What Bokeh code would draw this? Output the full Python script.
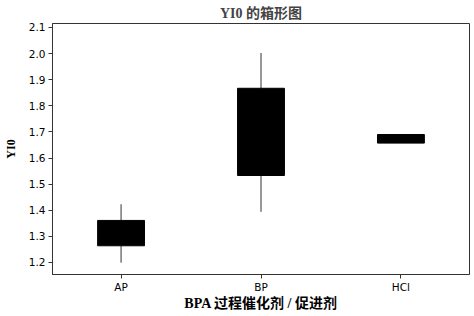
from bokeh.plotting import figure
from bokeh.models import FixedTicker, ColumnDataSource
from bokeh.embed import file_html
from bokeh.resources import INLINE

categories = ["AP", "BP", "HCl"]
q1 = [1.264, 1.533, 1.657]
q3 = [1.361, 1.867, 1.690]
lower = [1.199, 1.394, 1.657]
upper = [1.423, 2.002, 1.690]
y_ticks = [1.2, 1.3, 1.4, 1.5, 1.6, 1.7, 1.8, 1.9, 2.0, 2.1]

xs = list(range(len(categories)))
src = ColumnDataSource(dict(x=xs, q1=q1, q3=q3, lo=lower, hi=upper))

serif = "Liberation Serif, Noto Sans CJK SC"
sans = "DejaVu Sans"

p = figure(width=474, height=316, output_backend="svg", toolbar_location=None,
           x_range=(-0.49, 2.49), y_range=(1.154, 2.115),
           min_border_left=45, min_border_right=5, min_border_top=0, min_border_bottom=42,
           title="YI0 的箱形图")
p.title.align = "center"
p.title.text_font = serif
p.title.text_font_size = "14px"
p.title.text_font_style = "bold"
p.title.offset = 0
p.title.standoff = 6

p.segment(x0="x", y0="lo", x1="x", y1="q1", source=src, line_color="#333333", line_width=1)
p.segment(x0="x", y0="q3", x1="x", y1="hi", source=src, line_color="#333333", line_width=1)
p.vbar(x="x", bottom="q1", top="q3", width=0.335, source=src,
       fill_color="black", line_color="black")

p.grid.visible = False
p.outline_line_color = "#333333"
p.outline_line_width = 1
p.background_fill_color = "white"
p.border_fill_color = "white"

p.xaxis.ticker = FixedTicker(ticks=xs)
p.xaxis.major_label_overrides = {i: c for i, c in enumerate(categories)}
p.yaxis.ticker = FixedTicker(ticks=y_ticks)
p.yaxis.major_label_overrides = {t: f"{t:.1f}" for t in y_ticks}

for ax in (p.xaxis[0], p.yaxis[0]):
    ax.minor_tick_line_color = None
    ax.major_tick_in = 0
    ax.major_tick_out = 4
    ax.major_tick_line_color = "#333333"
    ax.axis_line_color = "#333333"
    ax.major_label_text_font = sans
    ax.major_label_text_font_size = "10.5px"
    ax.major_label_text_color = "black"
    ax.axis_label_text_font = serif
    ax.axis_label_text_font_style = "bold"
    ax.axis_label_text_color = "black"
    ax.major_label_standoff = 3

p.xaxis.major_label_standoff = 2
p.xaxis.axis_label = "BPA 过程催化剂 / 促进剂"
p.xaxis.axis_label_text_font_size = "14px"
p.xaxis.axis_label_standoff = 0
p.yaxis.axis_label = "YI0"
p.yaxis.axis_label_text_font_size = "12px"
p.yaxis.axis_label_standoff = 8

open("out.html", "w").write(file_html(p, INLINE))
